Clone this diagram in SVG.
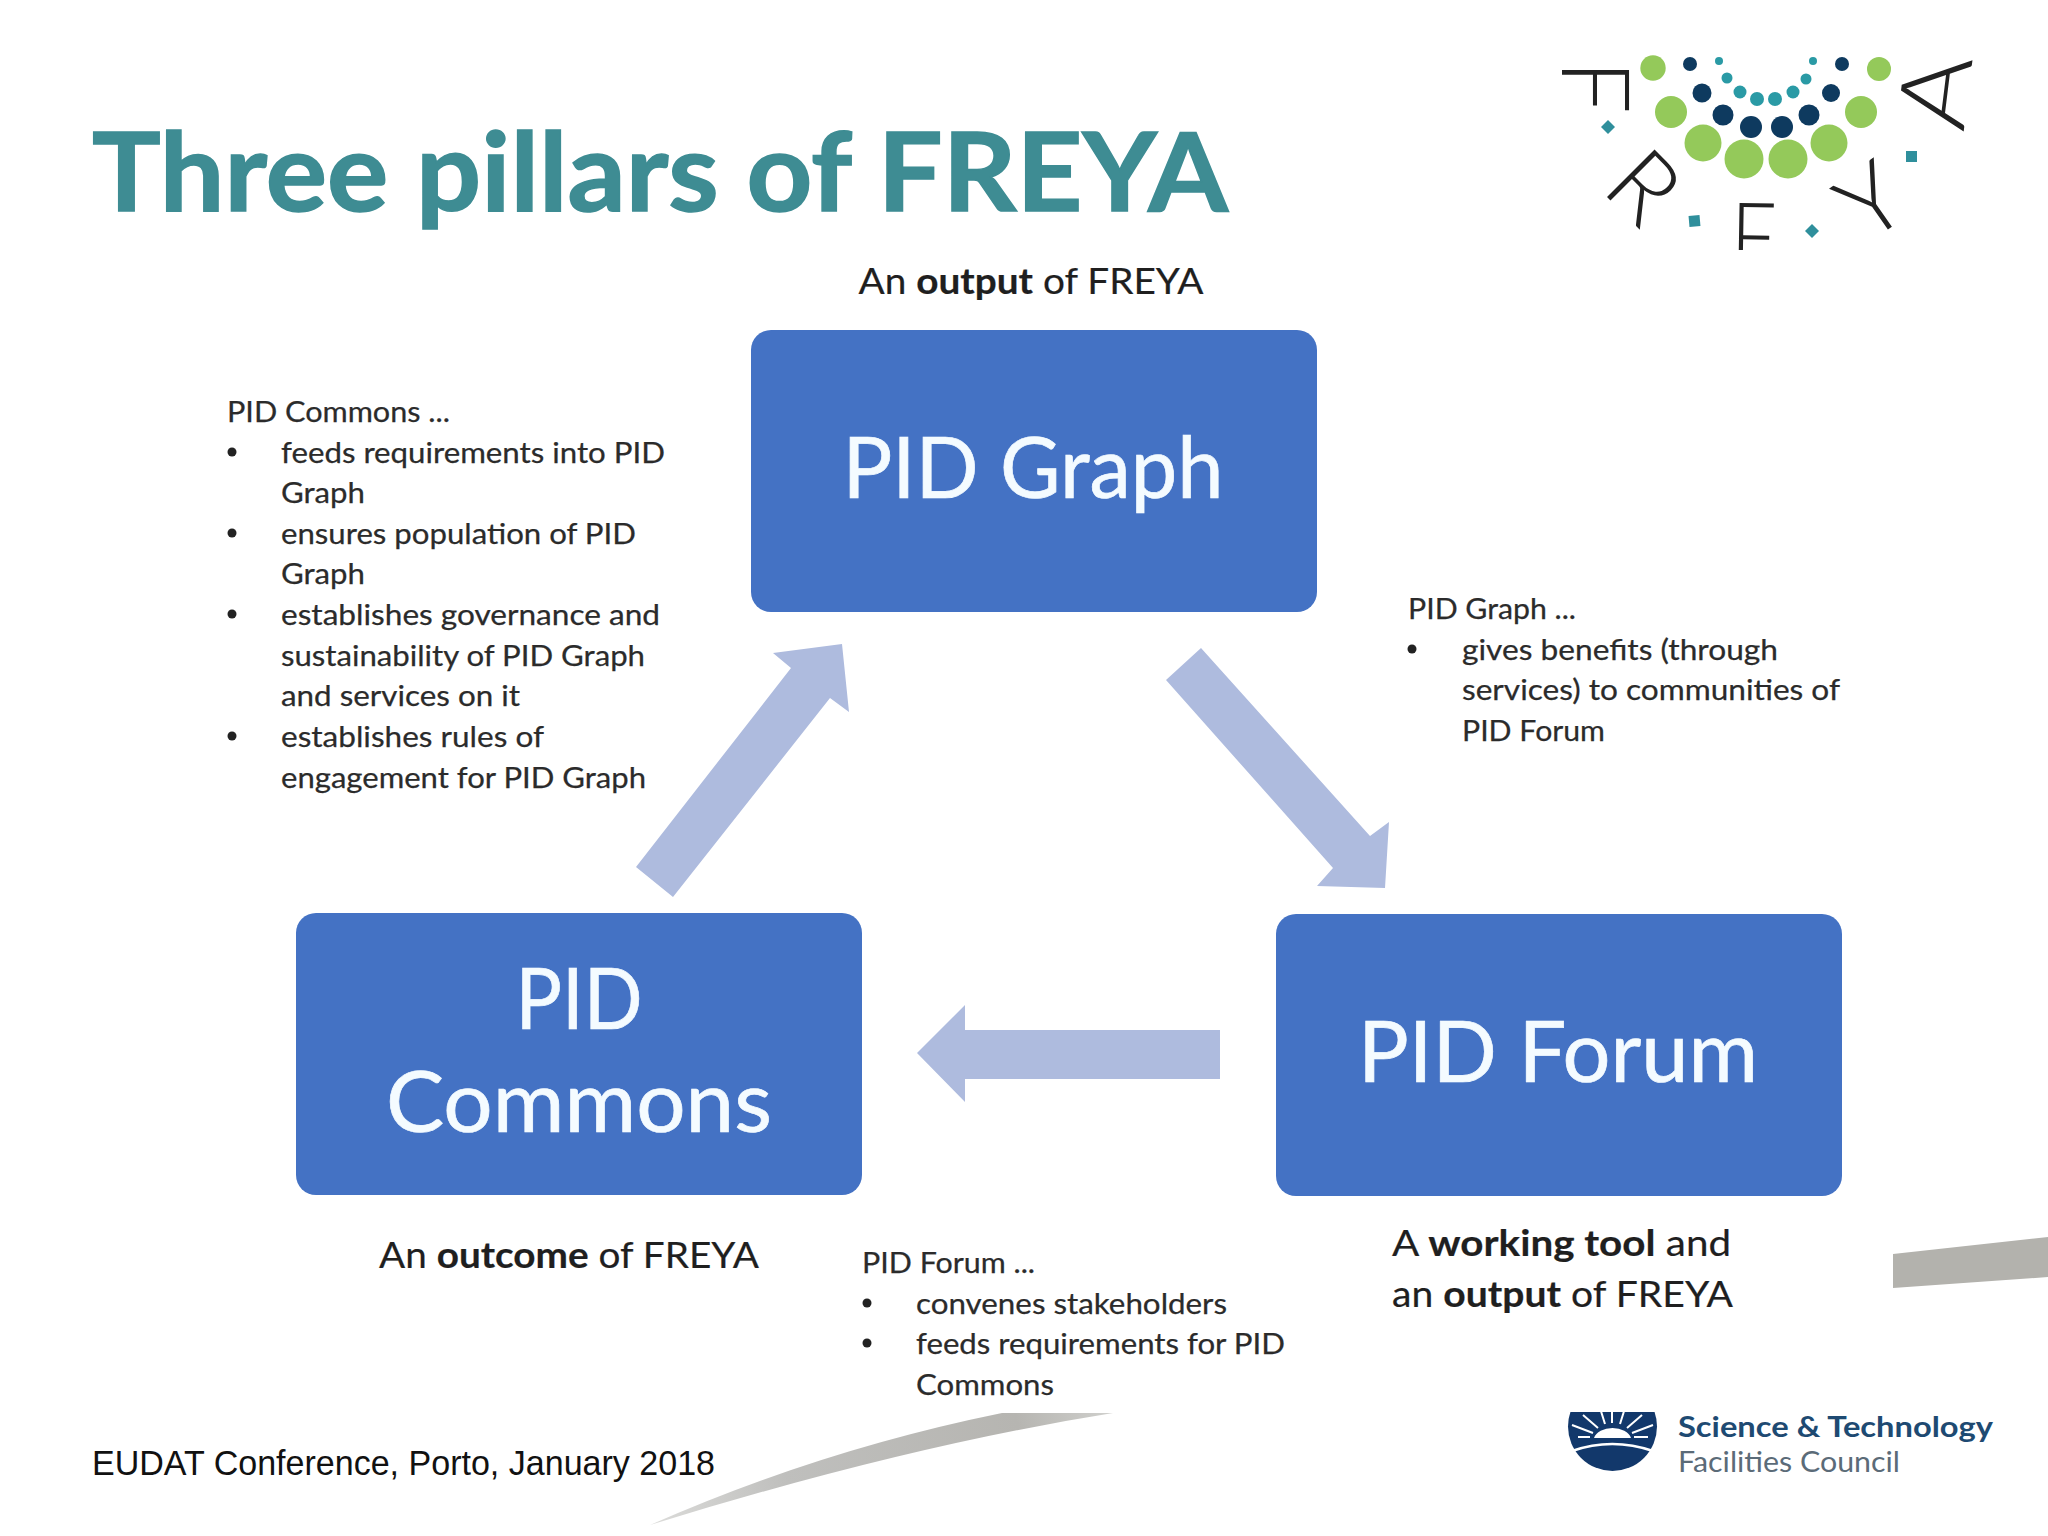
<svg xmlns="http://www.w3.org/2000/svg" width="2048" height="1536" viewBox="0 0 2048 1536">
<style>
text{font-family:"Lato","Carlito","Open Sans",sans-serif}
.b{font-size:29.5px;fill:#2b2b2b;stroke:#2b2b2b;stroke-width:.25px}
.c{font-size:37px;fill:#1f1f1f;stroke:#1f1f1f;stroke-width:.2px}
.n{font-size:85px;fill:#f4fbff;text-anchor:middle;stroke:#f4fbff;stroke-width:.7px}
.box{fill:#4472c4}
.arw{fill:#aebbde}
.g{fill:#94c95a}.d{fill:#0e3a5f}.t{fill:#2a9aa5}
.s{fill:#2f8f9c}
.l{font-size:95px;font-weight:300;fill:#222}
.sb{font-weight:700}
</style>
<defs>
<clipPath id="cF"><rect x="1700" y="150" width="120" height="100"/></clipPath>
<clipPath id="cS"><rect x="1560" y="1412" width="110" height="70"/></clipPath>
<linearGradient id="sw" x1="650" y1="1525" x2="1113" y2="1413" gradientUnits="userSpaceOnUse"><stop offset="0" stop-color="#dcdcda"/><stop offset=".3" stop-color="#bfbfbd"/><stop offset=".8" stop-color="#b6b5b1"/><stop offset="1" stop-color="#d0d0cd"/></linearGradient>
</defs>
<rect width="2048" height="1536" fill="#fff"/>

<g id="swooshes">
<path d="M1893,1254 L2048,1237 V1277 L1893,1288 Z" fill="#b3b2ad"/>
<path d="M650,1525 Q820,1450 1002,1413 L1113,1413 Q905,1446 650,1525 Z" fill="url(#sw)"/>
</g>

<text id="title" x="92" y="211" font-size="110" font-weight="700" fill="#3e8c93" stroke="#3e8c93" stroke-width="1.500" textLength="1136" lengthAdjust="spacingAndGlyphs">Three pillars of FREYA</text>

<g id="freya-logo">
<circle class="g" cx="1653" cy="68" r="12.7"/><circle class="g" cx="1671" cy="112" r="16"/><circle class="g" cx="1703" cy="143" r="18.5"/><circle class="g" cx="1744" cy="159" r="19.5"/><circle class="g" cx="1788" cy="159" r="19.5"/><circle class="g" cx="1829" cy="143" r="18.5"/><circle class="g" cx="1861" cy="112" r="16"/><circle class="g" cx="1879" cy="69" r="12"/>
<circle class="d" cx="1690" cy="64" r="7"/><circle class="d" cx="1702" cy="93" r="9.5"/><circle class="d" cx="1723" cy="115" r="10.5"/><circle class="d" cx="1751" cy="127" r="11"/><circle class="d" cx="1782" cy="127" r="11"/><circle class="d" cx="1809" cy="115" r="10.5"/><circle class="d" cx="1831" cy="93" r="9"/><circle class="d" cx="1842" cy="64" r="7"/>
<circle class="t" cx="1719" cy="61" r="4"/><circle class="t" cx="1727" cy="78" r="5.5"/><circle class="t" cx="1740" cy="92" r="6.5"/><circle class="t" cx="1757" cy="99" r="7"/><circle class="t" cx="1775" cy="99" r="7"/><circle class="t" cx="1793" cy="92" r="6.5"/><circle class="t" cx="1806" cy="79" r="5.5"/><circle class="t" cx="1813" cy="61" r="4"/>
<path class="s" d="M1608,120 L1615,127 L1608,134 L1601,127 Z"/>
<rect class="s" x="1906" y="151" width="11" height="11"/>
<rect class="s" x="1689" y="215.500" width="11" height="11" transform="rotate(-5 1694 221)"/>
<path class="s" d="M1812,224 L1819,231 L1812,238 L1805,231 Z"/>
<text class="l" transform="translate(1562,60) rotate(90)">F</text>
<text class="l" transform="translate(1600,190) rotate(45)">R</text>
<g clip-path="url(#cF)"><text class="l" transform="translate(1730,270) rotate(1) scale(.85,1)">F</text></g>
<text class="l" text-anchor="middle" transform="translate(1890,228) rotate(-35)">Y</text>
<text class="l" text-anchor="middle" transform="translate(1968,96) rotate(-83) scale(1.2,1)">A</text>
</g>

<g id="connectors">
<path class="arw" d="M636,867 L791,668 L773,653 L842,644 L849,712 L830,698 L673,897 Z"/>
<path class="arw" d="M1166,680 L1201,648 L1370,836 L1389,822 L1385,888 L1317,886 L1333,868 Z"/>
<path class="arw" d="M1220,1030 H965 V1005 L917,1053 L965,1102 V1079 H1220 Z"/>
</g>

<g id="pid-graph">
<rect class="box" x="751" y="330" width="566" height="282" rx="20"/>
<text class="n" x="1033" y="498" textLength="381" lengthAdjust="spacingAndGlyphs">PID Graph</text>
</g>
<g id="pid-commons">
<rect class="box" x="296" y="913" width="566" height="282" rx="20"/>
<text class="n" x="579" y="1029" textLength="127" lengthAdjust="spacingAndGlyphs">PID</text>
<text class="n" x="579" y="1132" textLength="386" lengthAdjust="spacingAndGlyphs">Commons</text>
</g>
<g id="pid-forum">
<rect class="box" x="1276" y="914" width="566" height="282" rx="20"/>
<text class="n" x="1558" y="1082" textLength="400" lengthAdjust="spacingAndGlyphs">PID Forum</text>
</g>

<g id="captions">
<text class="c" x="858.500" y="294" textLength="345" lengthAdjust="spacingAndGlyphs">An <tspan class="sb">output</tspan> of FREYA</text>
<text class="c" x="379" y="1268" textLength="380" lengthAdjust="spacingAndGlyphs">An <tspan class="sb">outcome</tspan> of FREYA</text>
<text class="c" x="1392" y="1256" textLength="339" lengthAdjust="spacingAndGlyphs">A <tspan class="sb">working tool</tspan> and</text>
<text class="c" x="1392" y="1307" textLength="341" lengthAdjust="spacingAndGlyphs">an <tspan class="sb">output</tspan> of FREYA</text>
</g>

<g id="commons-notes" transform="translate(-1,1)">
<text class="b" x="228" y="421" textLength="223" lengthAdjust="spacingAndGlyphs">PID Commons ...</text>
<circle cx="233" cy="451" r="4.500" fill="#222"/><circle cx="233" cy="532" r="4.500" fill="#222"/><circle cx="233" cy="613" r="4.500" fill="#222"/><circle cx="233" cy="735" r="4.500" fill="#222"/>
<text class="b" x="282" y="462" textLength="384" lengthAdjust="spacingAndGlyphs">feeds requirements into PID</text>
<text class="b" x="282" y="502" textLength="84" lengthAdjust="spacingAndGlyphs">Graph</text>
<text class="b" x="282" y="543" textLength="355" lengthAdjust="spacingAndGlyphs">ensures population of PID</text>
<text class="b" x="282" y="583" textLength="84" lengthAdjust="spacingAndGlyphs">Graph</text>
<text class="b" x="282" y="624" textLength="379" lengthAdjust="spacingAndGlyphs">establishes governance and</text>
<text class="b" x="282" y="665" textLength="364" lengthAdjust="spacingAndGlyphs">sustainability of PID Graph</text>
<text class="b" x="282" y="705" textLength="239" lengthAdjust="spacingAndGlyphs">and services on it</text>
<text class="b" x="282" y="746" textLength="263" lengthAdjust="spacingAndGlyphs">establishes rules of</text>
<text class="b" x="282" y="787" textLength="365" lengthAdjust="spacingAndGlyphs">engagement for PID Graph</text>
</g>

<g id="graph-notes" transform="translate(-1,1)">
<text class="b" x="1409" y="618" textLength="168" lengthAdjust="spacingAndGlyphs">PID Graph ...</text>
<circle cx="1413" cy="648" r="4.500" fill="#222"/>
<text class="b" x="1463" y="659" textLength="316" lengthAdjust="spacingAndGlyphs">gives benefits (through</text>
<text class="b" x="1463" y="699" textLength="378" lengthAdjust="spacingAndGlyphs">services) to communities of</text>
<text class="b" x="1463" y="740" textLength="143" lengthAdjust="spacingAndGlyphs">PID Forum</text>
</g>

<g id="forum-notes" transform="translate(-1,1)">
<text class="b" x="863" y="1272" textLength="173" lengthAdjust="spacingAndGlyphs">PID Forum ...</text>
<circle cx="868" cy="1302" r="4.500" fill="#222"/><circle cx="868" cy="1342" r="4.500" fill="#222"/>
<text class="b" x="917" y="1313" textLength="311" lengthAdjust="spacingAndGlyphs">convenes stakeholders</text>
<text class="b" x="917" y="1353" textLength="369" lengthAdjust="spacingAndGlyphs">feeds requirements for PID</text>
<text class="b" x="917" y="1394" textLength="138" lengthAdjust="spacingAndGlyphs">Commons</text>
</g>

<text id="footer" x="92" y="1475" font-size="35" fill="#111" style="font-family:'Liberation Sans',Arial,sans-serif" textLength="623" lengthAdjust="spacingAndGlyphs">EUDAT Conference, Porto, January 2018</text>

<g id="stfc-logo">
<g clip-path="url(#cS)">
<circle cx="1612.500" cy="1426.500" r="44.500" fill="#12386b"/>
<path d="M1594,1438 A19,13 0 0 1 1631,1438 Z" fill="#fff"/>
<path d="M1612,1423 L1612,1408 M1605,1424 L1600,1408 M1620,1424 L1625,1408 M1598,1428 L1583,1415 M1627,1428 L1642,1415 M1593,1433 L1572,1425 M1632,1433 L1653,1425 M1590,1437 L1578,1437 M1634,1437 L1648,1437" stroke="#fff" stroke-width="2" fill="none"/>
<path d="M1572,1451 Q1612,1437 1653,1451" stroke="#fff" stroke-width="2.500" fill="none"/>
</g>
<text x="1678" y="1437" font-size="28.500" class="sb" fill="#1e4a72" textLength="315" lengthAdjust="spacingAndGlyphs">Science &amp; Technology</text>
<text x="1678" y="1472" font-size="28.500" fill="#5b6b78" textLength="222" lengthAdjust="spacingAndGlyphs">Facilities Council</text>
</g>
</svg>
